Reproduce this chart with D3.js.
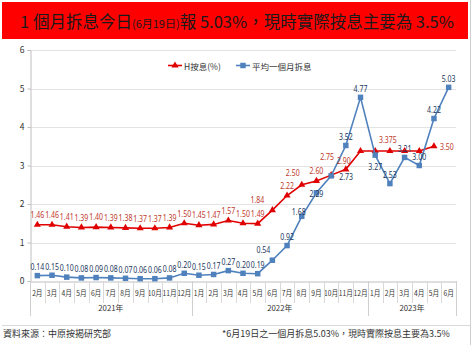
<!DOCTYPE html>
<html><head><meta charset="utf-8">
<script src="https://cdn.jsdelivr.net/npm/d3@7"></script>
<style>
html,body{margin:0;padding:0;background:#fff;}
svg{display:block;}
text{font-family:"Noto Sans CJK TC","Noto Sans",sans-serif;}
.num{font-family:"Noto Sans",sans-serif;}
</style></head>
<body>
<svg id="c" width="474" height="345"></svg>
<script>
const months = ["2月","3月","4月","5月","6月","7月","8月","9月","10月","11月","12月",
  "1月","2月","3月","4月","5月","6月","7月","8月","9月","10月","11月","12月",
  "1月","2月","3月","4月","5月","6月"];
const years = [{label:"2021年", count:11},{label:"2022年", count:12},{label:"2023年", count:6}];
const hRate = [1.46,1.46,1.41,1.39,1.40,1.39,1.38,1.37,1.37,1.39,1.50,
  1.45,1.47,1.57,1.50,1.49,1.84,2.22,2.50,2.60,2.75,2.90,3.375,
  3.375,3.375,3.375,3.375,3.50,null];
const hibor = [0.14,0.15,0.10,0.08,0.09,0.08,0.07,0.06,0.06,0.08,0.20,
  0.15,0.17,0.27,0.20,0.19,0.54,0.92,1.68,2.29,2.73,3.52,4.77,
  3.27,2.53,3.21,3.00,4.22,5.03];
const yTicks = [0,1,2,3,4,5,6];
const seriesNames = ["H按息(%)","平均一個月拆息"];
const titleParts = ["1 個月拆息今日","(6月19日)","報 5.03%，現時實際按息主要為 3.5%"];
const footLeft = "資料來源：中原按揭研究部";
const footRight = "*6月19日之一個月拆息5.03%，現時實際按息主要為3.5%";

const svg = d3.select("#c");
const RED = "#e00000", BLUE = "#4f81bd";

// frame
svg.append("rect").attr("x",2).attr("y",2).attr("width",466).attr("height",37).attr("fill","#ff0000");
svg.append("line").attr("x1",470.5).attr("x2",470.5).attr("y1",0).attr("y2",345).attr("stroke","#d0d0d0");
svg.append("line").attr("x1",2).attr("x2",470).attr("y1",325.5).attr("y2",325.5).attr("stroke","#d9d9d9");

// title
const t = svg.append("text").attr("x",237).attr("y",28).attr("text-anchor","middle")
  .attr("fill","#1a1a1a").attr("font-size",16.5);
t.append("tspan").text(titleParts[0]);
t.append("tspan").attr("font-size",11).text(titleParts[1]);
t.append("tspan").text(titleParts[2]);

const idx = d3.range(months.length);
const x = d3.scaleBand().domain(idx).range([30,456]).paddingInner(0).paddingOuter(0);
const cx = i => x(i) + x.bandwidth()/2;
const y = d3.scaleLinear().domain([0,6]).range([281,50]);

// grid
svg.append("g").selectAll("line").data(yTicks.filter(d=>d>0)).join("line")
  .attr("x1",30).attr("x2",456).attr("y1",d=>Math.round(y(d))+0.5).attr("y2",d=>Math.round(y(d))+0.5)
  .attr("stroke","#e3e3e3");
// y axis
const ya = svg.append("g").attr("transform","translate(30.5,0)")
  .call(d3.axisLeft(y).tickValues(yTicks).tickSize(3).tickFormat(d3.format("d")));
ya.select(".domain").attr("stroke","#bfbfbf");
ya.selectAll(".tick line").attr("stroke","#bfbfbf");
ya.selectAll("text").attr("font-size",8.5).attr("fill","#333").attr("font-family","Noto Sans, sans-serif").attr("x",-6);

// x axis
const xa = svg.append("g").attr("transform","translate(0,281.5)")
  .call(d3.axisBottom(x).tickFormat(i=>months[i]).tickSize(0));
xa.select(".domain").attr("stroke","#bfbfbf");
xa.selectAll("text").attr("font-size",7.8).attr("fill","#333").attr("y",14.5).attr("dy",0)
  .attr("transform","scale(0.86,1)");
// month separators
svg.append("g").selectAll("line").data(d3.range(months.length+1)).join("line")
  .attr("x1",i=>Math.round(i<months.length?x(i):456)+0.5).attr("x2",i=>Math.round(i<months.length?x(i):456)+0.5)
  .attr("y1",281).attr("y2",303).attr("stroke","#d9d9d9");
// year groups
let start = 0;
years.forEach(yr => {
  const x0 = x(start), x1 = start+yr.count<months.length ? x(start+yr.count) : 456;
  svg.append("line").attr("x1",Math.round(x0)+0.5).attr("x2",Math.round(x0)+0.5).attr("y1",281).attr("y2",316).attr("stroke","#d0d0d0");
  svg.append("text").attr("x",(x0+x1)/2).attr("y",311).attr("text-anchor","middle")
    .attr("font-size",7.8).attr("fill","#333").text(yr.label);
  start += yr.count;
});
svg.append("line").attr("x1",456.5).attr("x2",456.5).attr("y1",281).attr("y2",316).attr("stroke","#d0d0d0");

// lines
const line = d3.line().defined(d=>d.v!=null).x(d=>cx(d.i)).y(d=>y(d.v));
const redData = hRate.map((v,i)=>({i,v}));
const blueData = hibor.map((v,i)=>({i,v}));
const tri = d3.symbol().type(d3.symbolTriangle).size(22);
const sq = d3.symbol().type(d3.symbolSquare).size(30);

svg.append("path").datum(redData).attr("d",line).attr("fill","none").attr("stroke",RED).attr("stroke-width",1.6);
svg.append("g").selectAll("path").data(redData.filter(d=>d.v!=null)).join("path")
  .attr("d",tri).attr("transform",d=>`translate(${cx(d.i)},${y(d.v)})`).attr("fill",RED);

svg.append("path").datum(blueData).attr("d",line).attr("fill","none").attr("stroke",BLUE).attr("stroke-width",1.6);
svg.append("g").selectAll("path").data(blueData).join("path")
  .attr("d",sq).attr("transform",d=>`translate(${cx(d.i)},${y(d.v)})`).attr("fill",BLUE);

// labels (horizontally condensed to mimic the narrow original font)
const fmt = v => (Math.abs(Math.round(v*100)-v*100)<1e-9) ? v.toFixed(2) : String(v);
const redSkip = new Set([22,23,25,26]);
const redOff = {16:[-15,-10],18:[-9,-12],20:[-4,-18],21:[-2,-9],24:[-2,-11],27:[6,0,"start"]};
const blueOff = {16:[-9,-10],18:[-3,-5],19:[0,1],20:[15,1],23:[0,12]};
function labels(data, off, skip, color, def){
  svg.append("g").selectAll("text").data(data.filter(d=>d.v!=null && !skip.has(d.i))).join("text")
    .attr("class","num")
    .attr("transform",d=>`translate(${cx(d.i)+(off[d.i]?off[d.i][0]:0)},${y(d.v)+(off[d.i]?off[d.i][1]:def)}) scale(0.82,1)`)
    .attr("text-anchor",d=>off[d.i]&&off[d.i][2]?off[d.i][2]:"middle")
    .attr("dominant-baseline","central")
    .attr("font-size",8.5)
    .attr("fill",color).text(d=>fmt(d.v));
}
labels(redData, redOff, redSkip, "#c0392b", -10);
labels(blueData, blueOff, new Set(), "#22385e", -9);

// legend
const lg = svg.append("g");
lg.append("line").attr("x1",168).attr("x2",182).attr("y1",65.5).attr("y2",65.5).attr("stroke",RED).attr("stroke-width",1.6);
lg.append("path").attr("d",tri).attr("transform","translate(175,65.5)").attr("fill",RED);
lg.append("text").attr("x",184).attr("y",65.5).attr("dominant-baseline","central").attr("font-size",8.5).attr("fill","#333").text(seriesNames[0]);
lg.append("line").attr("x1",236).attr("x2",250).attr("y1",65.5).attr("y2",65.5).attr("stroke",BLUE).attr("stroke-width",1.6);
lg.append("path").attr("d",sq).attr("transform","translate(243,65.5)").attr("fill",BLUE);
lg.append("text").attr("x",252).attr("y",65.5).attr("dominant-baseline","central").attr("font-size",8.5).attr("fill","#333").text(seriesNames[1]);

// footer
svg.append("text").attr("x",3).attr("y",337).attr("font-size",9).attr("fill","#333").text(footLeft);
svg.append("text").attr("x",222).attr("y",337).attr("font-size",9).attr("fill","#333").text(footRight);
</script>
</body></html>
